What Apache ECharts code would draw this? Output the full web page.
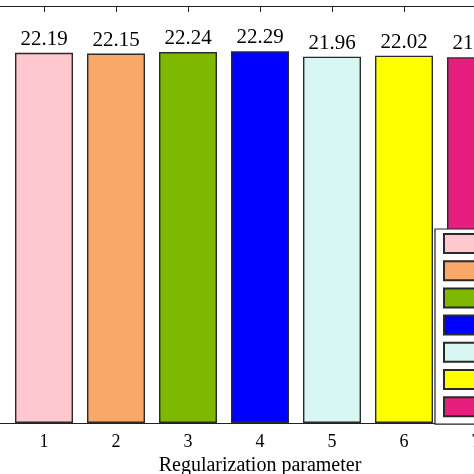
<!DOCTYPE html>
<html>
<head>
<meta charset="utf-8">
<script src="https://cdn.jsdelivr.net/npm/echarts@6/dist/echarts.min.js"></script>
<style>
html,body{margin:0;padding:0;width:474px;height:474px;overflow:hidden;background:#fff;}
#c{position:absolute;left:-60px;top:0;width:640px;height:474px;}
</style>
</head>
<body>
<div id="c"></div>
<script>
var positions = [1, 2, 3, 4, 5, 6, 7];
var values = [22.19, 22.15, 22.24, 22.29, 21.96, 22.02, 21.93];
var seriesNames = ['1', '2', '3', '4', '5', '6', '7'];
var colors = ['#FFC8CE', '#F9A86A', '#7FB800', '#0000FF', '#D8F6F2', '#FFFF00', '#E61F7E'];
var xTickLabels = ['0', '1', '2', '3', '4', '5', '6', '7', '8'];

var font = '"Liberation Serif", "Times New Roman", serif';
var chart = echarts.init(document.getElementById('c'), null, {renderer: 'canvas'});
var series = values.map(function (v, i) {
  return {
    name: seriesNames[i],
    type: 'bar',
    barWidth: 58,
    barGap: '-100%',
    data: [[positions[i], v]],
    itemStyle: {color: colors[i], borderColor: '#2a2a2a', borderWidth: 1.4},
    label: {
      show: true, position: 'top', distance: 3,
      formatter: function (p) { return p.value[1].toFixed(2); },
      fontFamily: font, fontSize: 21, color: '#000'
    }
  };
});
chart.setOption({
  animation: false,
  textStyle: {fontFamily: font},
  grid: {left: 32, right: 32, top: 6, bottom: 51, containLabel: false, outerBoundsMode: 'none'},
  legend: {
    orient: 'vertical', left: 495, top: 229,
    padding: [4, 5, 7, 8], itemGap: 6.2, itemWidth: 40, itemHeight: 19,
    backgroundColor: '#fff', borderColor: '#222', borderWidth: 1.2, borderRadius: 0,
    icon: 'rect',
    textStyle: {fontFamily: font, fontSize: 12, lineHeight: 12, color: '#000'},
    data: seriesNames
  },
  xAxis: [{
    type: 'value', min: 0, max: 8, interval: 1, position: 'bottom',
    name: 'Regularization parameter', nameLocation: 'middle', nameGap: 30,
    nameTextStyle: {fontFamily: font, fontSize: 20, color: '#000'},
    axisLine: {show: true, onZero: false, lineStyle: {color: '#222', width: 1.2}},
    axisTick: {show: true, inside: true, length: 6, lineStyle: {color: '#222'}},
    axisLabel: {fontFamily: font, fontSize: 18, color: '#000', margin: 10,
      formatter: function (v) { return xTickLabels[v]; }},
    splitLine: {show: false}
  }, {
    type: 'value', min: 0, max: 8, interval: 1, position: 'top',
    axisLine: {show: true, onZero: false, lineStyle: {color: '#222', width: 1.2}},
    axisTick: {show: true, inside: true, length: 6, lineStyle: {color: '#222'}},
    axisLabel: {show: false},
    splitLine: {show: false}
  }],
  yAxis: [{
    type: 'value', min: 0, max: 25, interval: 5,
    axisLine: {show: true, lineStyle: {color: '#222'}},
    axisTick: {show: true, inside: true},
    axisLabel: {fontFamily: font, fontSize: 18, color: '#000'},
    splitLine: {show: false}
  }, {
    type: 'value', min: 0, max: 25, interval: 5, position: 'right',
    axisLine: {show: true, lineStyle: {color: '#222'}},
    axisTick: {show: true, inside: true},
    axisLabel: {show: false},
    splitLine: {show: false}
  }],
  series: series
});
</script>
</body>
</html>
